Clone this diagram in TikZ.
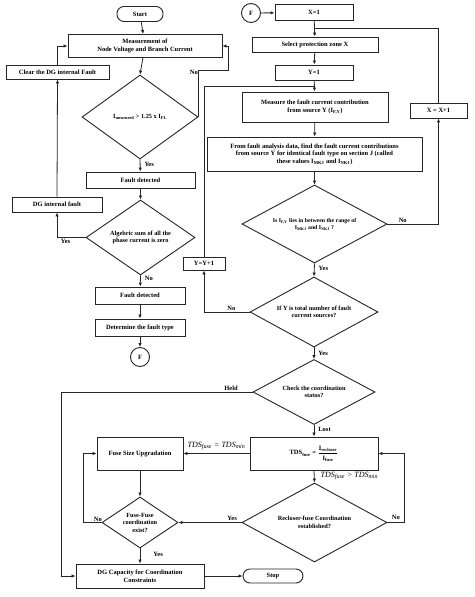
\documentclass[tikz,border=0pt]{standalone}
\usepackage{fontspec}
\setmainfont{Liberation Serif}
\usetikzlibrary{calc,arrows.meta,positioning,shapes.geometric}

\begin{document}
\begin{tikzpicture}[
  x=1pt, y=-1pt, >=Latex,
  font=\fontsize{6.5}{7.5}\selectfont\bfseries,
  block/.style={rectangle, draw=black!85, line width=0.9pt, fill=white, align=center, inner sep=1pt},
  decision/.style={diamond, draw=black!85, line width=0.9pt, fill=white, inner sep=0pt},
  dtext/.style={align=center, inner sep=0pt, font=\fontsize{6.3}{7.5}\selectfont\bfseries},
  terminal/.style={rectangle, draw=black!85, line width=0.9pt, rounded corners=7pt, fill=white, align=center},
  connector/.style={circle, draw=black!85, line width=0.9pt, fill=white, minimum size=19pt, inner sep=0pt},
  line/.style={draw=black!85, line width=0.8pt, -{Latex[length=4pt,width=3.5pt]}},
  plain/.style={draw=black!85, line width=0.8pt},
  lbl/.style={font=\fontsize{6.5}{7.5}\selectfont\bfseries, inner sep=1pt},
  tdslbl/.style={font=\fontsize{8}{9}\selectfont\itshape, inner sep=1pt}
]
  \useasboundingbox (0,0) rectangle (474,597);

  % LEFT COLUMN: fault detection
  \node[terminal, minimum width=46pt, minimum height=15pt] (start) at (140,14) {Start};
  \node[block, minimum width=154pt, minimum height=23pt] (meas) at (145,46) {Measurement of\\Node Voltage and Branch Current};
  \node[block, minimum width=103pt, minimum height=14pt] (clear) at (57.5,72) {Clear the DG internal Fault};
  \node[decision, minimum width=116pt, minimum height=84pt,
    label={[dtext]center:I\textsubscript{measured} > 1.25 x I\textsubscript{FL}}] (d1) at (140,117) {};
  \node[block, minimum width=109pt, minimum height=16pt] (fd1) at (140.5,180) {Fault detected};
  \node[block, minimum width=90pt, minimum height=15pt] (dgint) at (57,204.5) {DG internal fault};
  \node[decision, minimum width=109pt, minimum height=75pt,
    label={[dtext]center:Algebric sum of all the\\phase current is zero}] (d2) at (140.5,237.5) {};
  \node[block, minimum width=90pt, minimum height=17pt] (fd2) at (140,295.5) {Fault detected};
  \node[block, minimum width=90pt, minimum height=17pt] (ftype) at (140,327.5) {Determine the fault type};
  \node[connector] (fout) at (140,357) {F};

  % RIGHT COLUMN: protection zones and sources
  \node[connector] (fin) at (251,13) {F};
  \node[block, minimum width=78pt, minimum height=16pt] (x1) at (314,12.5) {X=1};
  \node[block, minimum width=126pt, minimum height=15pt] (zone) at (315,44.5) {Select protection zone X};
  \node[block, minimum width=78pt, minimum height=15pt] (y1) at (314,72.5) {Y=1};
  \node[block, minimum width=146pt, minimum height=30pt] (measF) at (315,107) {Measure the fault current contribution\\from source Y (I\textsubscript{F,Y})};
  \node[block, minimum width=57pt, minimum height=15pt] (xinc) at (438.5,110.5) {X = X+1};
  \node[block, minimum width=215pt, minimum height=34pt] (analysis) at (314.5,154) {From fault analysis data, find the fault current contributions\\from source Y for identical fault type on section J (called\\these values I\textsubscript{MKJ} and I\textsubscript{NKJ})};
  \node[decision, minimum width=145pt, minimum height=78pt,
    label={[dtext, font=\fontsize{5.8}{7}\selectfont\bfseries]center:Is I\textsubscript{F,Y} lies in between the range of\\I\textsubscript{MKJ} and I\textsubscript{NKJ} ?}] (d3) at (314.5,224) {};
  \node[block, minimum width=42pt, minimum height=13pt] (yinc) at (204,263.5) {Y=Y+1};
  \node[decision, minimum width=128pt, minimum height=70pt,
    label={[dtext]center:If Y is total number of fault\\current sources?}] (d4) at (314,312) {};
  \node[decision, minimum width=122pt, minimum height=65pt,
    label={[dtext]center:Check the coordination\\status?}] (d5) at (314,392) {};

  % BOTTOM: coordination
  \node[block, minimum width=128pt, minimum height=33pt] (tds) at (314,453.5) {TDS\textsubscript{fuse} = $\displaystyle\frac{\mbox{\bfseries I\textsubscript{recloser}}}{\mbox{\bfseries I\textsubscript{fuse}}}$};
  \node[block, minimum width=86pt, minimum height=33pt] (fuse) at (140,453.5) {Fuse Size Upgradation};
  \node[decision, minimum width=145pt, minimum height=79pt,
    label={[dtext]center:Recloser-fuse Coordination\\established?}] (d6) at (314.5,522.5) {};
  \node[decision, minimum width=76pt, minimum height=51pt,
    label={[dtext]center:Fuse-Fuse\\coordination\\exist?}] (d7) at (140,522.5) {};
  \node[block, minimum width=128pt, minimum height=24pt] (dgcap) at (140,576) {DG Capacity for Coordination\\Constraints};
  \node[terminal, minimum width=60pt, minimum height=14pt] (stop) at (273,576) {Stop};

  \coordinate (nobend) at (228,70);
  \coordinate (heldx) at (61,0);

  % connectors, left column
  \draw[line] (start) -- (meas);
  \draw[line] (meas) -- (d1.north);
  \draw[line] (d1.south) -- (fd1) node[lbl, pos=0.4, right=3pt] {Yes};
  \draw[line] (fd1) -- (d2.north);
  \draw[line] (d2.west) -| (dgint.south) node[lbl, pos=0.35, below] {Yes};
  \draw[line] (dgint.north) -- (clear.south);
  \draw[line] (clear.north) |- (meas.west);
  \draw[line] (d1.east) |- (nobend) |- (meas.east);
  \node[lbl, left=1pt of nobend, xshift=-28pt, yshift=-2pt] {No};
  \draw[line] (d2.south) -- (fd2) node[lbl, pos=0.3, right=3pt] {No};
  \draw[line] (fd2) -- (ftype);
  \draw[line] (ftype) -- (fout);

  % connectors, right column
  \draw[line] (fin) -- (x1);
  \draw[line] (x1) -- (zone);
  \draw[line] (zone) -- (y1);
  \draw[line] (y1) -- (measF);
  \draw[line] (measF) -- (analysis);
  \draw[line] (analysis) -- (d3.north);
  \draw[line] (d3.east) -| (xinc.south) node[lbl, pos=0.15, above] {No};
  \draw[plain] (xinc.north) |- ($(x1.south)!0.5!(zone.north)$);
  \draw[line] (d3.south) -- (d4.north) node[lbl, pos=0.4, right=3pt] {Yes};
  \draw[line] (d4.west) -| (yinc.south) node[lbl, pos=0.2, above] {No};
  \draw[plain] (yinc.north) |- ($(y1.south)!0.5!(measF.north)$);
  \draw[line] (d4.south) -- (d5.north) node[lbl, pos=0.5, right=3pt] {Yes};
  \draw[line] (d5.south) -- (tds.north) node[lbl, pos=0.4, right=3pt] {Lost};
  \draw[line] (d5.west) -- (d5.west -| heldx) node[lbl, pos=0.07, above left] {Held} |- (dgcap.west);

  % connectors, coordination
  \draw[line] (tds.west) -- (fuse.east) node[tdslbl, pos=0.5, above, yshift=2pt] {TDS\textsubscript{fuse} = TDS\textsubscript{min}};
  \draw[line] (tds.south) -- (d6.north) node[tdslbl, pos=0.45, right=5pt] {TDS\textsubscript{fuse} > TDS\textsubscript{min}};
  \draw[line] (d6.east) -- ++(17,0) node[lbl, pos=0.5, above, yshift=2pt] {No} |- (tds.east);
  \draw[line] (d6.west) -- (d7.east) node[lbl, pos=0.15, above, yshift=1pt] {Yes};
  \draw[line] (fuse.south) -- (d7.north);
  \draw[line] (d7.west) -- ++(-18,0) node[lbl, pos=0.2, above] {No} |- (fuse.west);
  \draw[line] (d7.south) -- (dgcap.north) node[lbl, pos=0.4, right=12pt] {Yes};
  \draw[line] (dgcap.east) -- (stop.west);

\end{tikzpicture}
\end{document}
